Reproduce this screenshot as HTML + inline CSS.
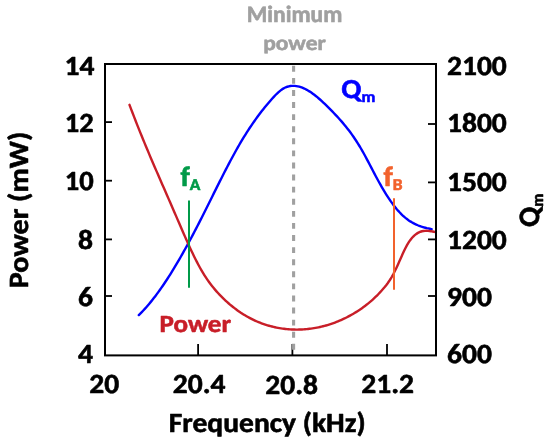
<!DOCTYPE html>
<html><head><meta charset="utf-8"><title>Power and Qm vs Frequency</title>
<style>
html,body{margin:0;padding:0;background:#fff;}
svg{display:block;}
text{font-family:Carlito,"Liberation Sans",sans-serif;font-weight:bold;stroke-width:0.6px;stroke-linejoin:round;text-rendering:geometricPrecision;}
</style></head><body>
<svg width="550" height="444" viewBox="0 0 550 444">
<rect x="0" y="0" width="550" height="444" fill="#fff"/>
<!-- minimum power label -->
<text transform="translate(294.5,21.6)" font-size="23.5" fill="#A0A0A0" stroke="#A0A0A0" text-anchor="middle" textLength="95.55" lengthAdjust="spacingAndGlyphs">Minimum</text>
<text transform="translate(294.5,49.5) scale(1,0.9)" font-size="23.5" fill="#A0A0A0" stroke="#A0A0A0" text-anchor="middle" textLength="62.72" lengthAdjust="spacingAndGlyphs">power</text>
<!-- curves -->
<path d="M138.80,315.05 L140.30,313.58 L141.80,312.06 L143.30,310.49 L144.80,308.86 L146.30,307.19 L147.80,305.47 L149.30,303.70 L150.80,301.88 L152.30,300.01 L153.80,298.10 L155.30,296.15 L156.80,294.15 L158.30,292.10 L159.80,290.02 L161.30,287.89 L162.80,285.72 L164.30,283.51 L165.80,281.26 L167.30,278.97 L168.80,276.65 L170.30,274.28 L171.80,271.88 L173.30,269.45 L174.80,266.98 L176.30,264.47 L177.80,261.93 L179.30,259.36 L180.80,256.76 L182.30,254.13 L183.80,251.46 L185.30,248.77 L186.80,246.05 L188.30,243.30 L189.80,240.52 L191.30,237.72 L192.80,234.89 L194.30,232.03 L195.80,229.16 L197.30,226.25 L198.80,223.33 L200.30,220.39 L201.80,217.43 L203.30,214.45 L204.80,211.46 L206.30,208.46 L207.80,205.46 L209.30,202.44 L210.80,199.43 L212.30,196.41 L213.80,193.40 L215.30,190.39 L216.80,187.38 L218.30,184.39 L219.80,181.41 L221.30,178.44 L222.80,175.48 L224.30,172.55 L225.80,169.63 L227.30,166.74 L228.80,163.88 L230.30,161.04 L231.80,158.24 L233.30,155.46 L234.80,152.73 L236.30,150.03 L237.80,147.37 L239.30,144.75 L240.80,142.18 L242.30,139.66 L243.80,137.19 L245.30,134.76 L246.80,132.39 L248.30,130.06 L249.80,127.78 L251.30,125.55 L252.80,123.36 L254.30,121.21 L255.80,119.10 L257.30,117.04 L258.80,115.02 L260.30,113.04 L261.80,111.09 L263.30,109.18 L264.80,107.31 L266.30,105.48 L267.80,103.68 L269.30,101.91 L270.80,100.17 L272.30,98.47 L273.80,96.83 L275.30,95.26 L276.80,93.76 L278.30,92.36 L279.80,91.07 L281.30,89.91 L282.80,88.88 L284.30,88.00 L285.80,87.28 L287.30,86.73 L288.80,86.31 L290.30,86.04 L291.80,85.88 L293.30,85.84 L294.80,85.90 L296.30,86.07 L297.80,86.34 L299.30,86.70 L300.80,87.15 L302.30,87.70 L303.80,88.33 L305.30,89.04 L306.80,89.82 L308.30,90.68 L309.80,91.61 L311.30,92.61 L312.80,93.67 L314.30,94.79 L315.80,95.96 L317.30,97.19 L318.80,98.46 L320.30,99.77 L321.80,101.13 L323.30,102.52 L324.80,103.95 L326.30,105.40 L327.80,106.88 L329.30,108.38 L330.80,109.90 L332.30,111.44 L333.80,112.99 L335.30,114.56 L336.80,116.17 L338.30,117.80 L339.80,119.46 L341.30,121.16 L342.80,122.90 L344.30,124.69 L345.80,126.52 L347.30,128.40 L348.80,130.34 L350.30,132.34 L351.80,134.40 L353.30,136.52 L354.80,138.71 L356.30,140.98 L357.80,143.32 L359.30,145.75 L360.80,148.25 L362.30,150.85 L363.80,153.52 L365.30,156.27 L366.80,159.07 L368.30,161.91 L369.80,164.78 L371.30,167.66 L372.80,170.53 L374.30,173.38 L375.80,176.21 L377.30,178.99 L378.80,181.74 L380.30,184.43 L381.80,187.07 L383.30,189.64 L384.80,192.13 L386.30,194.55 L387.80,196.89 L389.30,199.15 L390.80,201.33 L392.30,203.42 L393.80,205.43 L395.30,207.35 L396.80,209.17 L398.30,210.91 L399.80,212.55 L401.30,214.10 L402.80,215.55 L404.30,216.90 L405.80,218.16 L407.30,219.32 L408.80,220.40 L410.30,221.39 L411.80,222.30 L413.30,223.14 L414.80,223.91 L416.30,224.62 L417.80,225.26 L419.30,225.85 L420.80,226.39 L422.30,226.88 L423.80,227.32 L425.30,227.73 L426.80,228.11 L428.30,228.45 L429.80,228.78 L431.30,229.08 L431.60,229.14" fill="none" stroke="#0000FF" stroke-width="2.4" stroke-linecap="round"/>
<path d="M129.50,104.86 L131.00,108.85 L132.50,112.79 L134.00,116.69 L135.50,120.54 L137.00,124.36 L138.50,128.13 L140.00,131.87 L141.50,135.57 L143.00,139.24 L144.50,142.88 L146.00,146.49 L147.50,150.07 L149.00,153.63 L150.50,157.17 L152.00,160.68 L153.50,164.18 L155.00,167.66 L156.50,171.13 L158.00,174.59 L159.50,178.03 L161.00,181.47 L162.50,184.90 L164.00,188.33 L165.50,191.76 L167.00,195.18 L168.50,198.61 L170.00,202.05 L171.50,205.49 L173.00,208.94 L174.50,212.40 L176.00,215.87 L177.50,219.35 L179.00,222.83 L180.50,226.31 L182.00,229.77 L183.50,233.22 L185.00,236.64 L186.50,240.02 L188.00,243.36 L189.50,246.65 L191.00,249.89 L192.50,253.06 L194.00,256.17 L195.50,259.19 L197.00,262.13 L198.50,264.98 L200.00,267.73 L201.50,270.37 L203.00,272.90 L204.50,275.32 L206.00,277.64 L207.50,279.86 L209.00,281.98 L210.50,284.01 L212.00,285.96 L213.50,287.83 L215.00,289.62 L216.50,291.35 L218.00,293.01 L219.50,294.62 L221.00,296.17 L222.50,297.67 L224.00,299.13 L225.50,300.54 L227.00,301.92 L228.50,303.25 L230.00,304.54 L231.50,305.79 L233.00,307.00 L234.50,308.17 L236.00,309.31 L237.50,310.41 L239.00,311.46 L240.50,312.49 L242.00,313.47 L243.50,314.42 L245.00,315.34 L246.50,316.22 L248.00,317.07 L249.50,317.89 L251.00,318.67 L252.50,319.42 L254.00,320.14 L255.50,320.82 L257.00,321.48 L258.50,322.11 L260.00,322.71 L261.50,323.28 L263.00,323.82 L264.50,324.34 L266.00,324.83 L267.50,325.29 L269.00,325.73 L270.50,326.14 L272.00,326.53 L273.50,326.89 L275.00,327.23 L276.50,327.55 L278.00,327.84 L279.50,328.11 L281.00,328.36 L282.50,328.58 L284.00,328.78 L285.50,328.96 L287.00,329.12 L288.50,329.25 L290.00,329.36 L291.50,329.45 L293.00,329.52 L294.50,329.56 L296.00,329.58 L297.50,329.58 L299.00,329.56 L300.50,329.51 L302.00,329.45 L303.50,329.36 L305.00,329.25 L306.50,329.12 L308.00,328.97 L309.50,328.80 L311.00,328.60 L312.50,328.39 L314.00,328.15 L315.50,327.90 L317.00,327.62 L318.50,327.32 L320.00,327.00 L321.50,326.66 L323.00,326.29 L324.50,325.90 L326.00,325.49 L327.50,325.06 L329.00,324.60 L330.50,324.12 L332.00,323.62 L333.50,323.09 L335.00,322.54 L336.50,321.96 L338.00,321.36 L339.50,320.73 L341.00,320.08 L342.50,319.40 L344.00,318.70 L345.50,317.97 L347.00,317.22 L348.50,316.43 L350.00,315.62 L351.50,314.79 L353.00,313.92 L354.50,313.03 L356.00,312.11 L357.50,311.16 L359.00,310.19 L360.50,309.18 L362.00,308.14 L363.50,307.07 L365.00,305.96 L366.50,304.81 L368.00,303.62 L369.50,302.39 L371.00,301.11 L372.50,299.79 L374.00,298.42 L375.50,296.99 L377.00,295.52 L378.50,293.99 L380.00,292.40 L381.50,290.75 L383.00,289.03 L384.50,287.26 L386.00,285.39 L387.50,283.42 L389.00,281.30 L390.50,279.01 L392.00,276.52 L393.50,273.79 L395.00,270.84 L396.50,267.71 L398.00,264.44 L399.50,261.09 L401.00,257.70 L402.50,254.35 L404.00,251.11 L405.50,248.03 L407.00,245.21 L408.50,242.68 L410.00,240.45 L411.50,238.49 L413.00,236.80 L414.50,235.36 L416.00,234.15 L417.50,233.15 L419.00,232.35 L420.50,231.74 L422.00,231.29 L423.50,230.99 L425.00,230.83 L426.50,230.78 L428.00,230.84 L429.50,230.98 L431.00,231.19 L432.50,231.45 L434.00,231.75 L435.50,232.08 L435.70,232.12" fill="none" stroke="#C81E28" stroke-width="2.4" stroke-linecap="round"/>
<!-- markers -->
<line x1="189" y1="200.5" x2="189" y2="287.8" stroke="#009A48" stroke-width="2"/>
<line x1="394" y1="198.2" x2="394" y2="289.8" stroke="#F2622D" stroke-width="2"/>
<!-- frame -->
<rect x="105" y="64" width="331" height="291.4" fill="none" stroke="#000" stroke-width="2"/>
<!-- ticks -->
<g stroke="#000" stroke-width="1.8">
<line x1="105" y1="122.1" x2="112" y2="122.1"/>
<line x1="105" y1="180.7" x2="112" y2="180.7"/>
<line x1="105" y1="239.4" x2="112" y2="239.4"/>
<line x1="105" y1="296" x2="112" y2="296"/>
<line x1="428" y1="124" x2="436" y2="124"/>
<line x1="428" y1="182.4" x2="436" y2="182.4"/>
<line x1="428" y1="239.4" x2="436" y2="239.4"/>
<line x1="428" y1="296" x2="436" y2="296"/>
<line x1="198.1" y1="344" x2="198.1" y2="355"/>
<line x1="292.4" y1="344" x2="292.4" y2="355"/>
<line x1="387" y1="344" x2="387" y2="355"/>
</g>
<!-- dashed line -->
<line x1="293.6" y1="65.8" x2="293.6" y2="354" stroke="#A0A0A0" stroke-width="3.1" stroke-dasharray="5.9 6.19"/>
<!-- axis labels -->
<text transform="translate(94.5,75.2) scale(1,0.94)" font-size="29.5" fill="#000" stroke="#000" text-anchor="end" textLength="29.90" lengthAdjust="spacingAndGlyphs">14</text>
<text transform="translate(93.7,131.92) scale(1,0.94)" font-size="29.5" fill="#000" stroke="#000" text-anchor="end" textLength="28.90" lengthAdjust="spacingAndGlyphs">12</text>
<text transform="translate(93.7,190.22) scale(1,0.94)" font-size="29.5" fill="#000" stroke="#000" text-anchor="end" textLength="28.90" lengthAdjust="spacingAndGlyphs">10</text>
<text transform="translate(93.0,248.92) scale(1,0.94)" font-size="29.5" fill="#000" stroke="#000" text-anchor="end" textLength="14.95" lengthAdjust="spacingAndGlyphs">8</text>
<text transform="translate(93.0,305.8) scale(1,0.94)" font-size="29.5" fill="#000" stroke="#000" text-anchor="end" textLength="14.95" lengthAdjust="spacingAndGlyphs">6</text>
<text transform="translate(93.0,362.7) scale(1,0.94)" font-size="29.5" fill="#000" stroke="#000" text-anchor="end" textLength="14.95" lengthAdjust="spacingAndGlyphs">4</text>
<text transform="translate(447,75.02) scale(1,0.94)" font-size="29.5" fill="#000" stroke="#000" text-anchor="start" textLength="59.81" lengthAdjust="spacingAndGlyphs">2100</text>
<text transform="translate(447,131.9) scale(1,0.94)" font-size="29.5" fill="#000" stroke="#000" text-anchor="start" textLength="59.81" lengthAdjust="spacingAndGlyphs">1800</text>
<text transform="translate(447,191.12) scale(1,0.94)" font-size="29.5" fill="#000" stroke="#000" text-anchor="start" textLength="59.81" lengthAdjust="spacingAndGlyphs">1500</text>
<text transform="translate(447,248.72) scale(1,0.94)" font-size="29.5" fill="#000" stroke="#000" text-anchor="start" textLength="59.81" lengthAdjust="spacingAndGlyphs">1200</text>
<text transform="translate(447,305.78) scale(1,0.94)" font-size="29.5" fill="#000" stroke="#000" text-anchor="start" textLength="44.85" lengthAdjust="spacingAndGlyphs">900</text>
<text transform="translate(447,362.9) scale(1,0.94)" font-size="29.5" fill="#000" stroke="#000" text-anchor="start" textLength="44.85" lengthAdjust="spacingAndGlyphs">600</text>
<text transform="translate(104.3,392.9) scale(1,0.94)" font-size="29.5" fill="#000" stroke="#000" text-anchor="middle" textLength="29.90" lengthAdjust="spacingAndGlyphs">20</text>
<text transform="translate(199.1,393.02) scale(1,0.94)" font-size="29.5" fill="#000" stroke="#000" text-anchor="middle" textLength="52.73" lengthAdjust="spacingAndGlyphs">20.4</text>
<text transform="translate(291.6,393.9) scale(1,0.94)" font-size="29.5" fill="#000" stroke="#000" text-anchor="middle" textLength="52.73" lengthAdjust="spacingAndGlyphs">20.8</text>
<text transform="translate(387.7,393.32) scale(1,0.94)" font-size="29.5" fill="#000" stroke="#000" text-anchor="middle" textLength="52.73" lengthAdjust="spacingAndGlyphs">21.2</text>
<text transform="translate(267.2,432.4) scale(1,0.94)" font-size="29.5" fill="#000" stroke="#000" text-anchor="middle" textLength="196.75" lengthAdjust="spacingAndGlyphs">Frequency (kHz)</text>
<text transform="translate(27.6,209.9) rotate(-90) scale(1,0.93)" font-size="30" fill="#000" stroke="#000" text-anchor="middle" textLength="156.52" lengthAdjust="spacingAndGlyphs">Power (mW)</text>
<text transform="translate(538.7,227) rotate(-90) scale(1,1.0)" font-size="29.5" fill="#000" stroke="#000">Q<tspan font-size="16" dy="4.00">m</tspan></text>
<!-- inline labels -->
<text transform="translate(341.3,97.8) scale(1,0.93)" font-size="29.5" fill="#0000FF" stroke="#0000FF">Q<tspan font-size="17" dy="4.09">m</tspan></text>
<text transform="translate(159.5,332.3) scale(1,0.91)" font-size="27" fill="#C81E28" stroke="#C81E28" text-anchor="start" textLength="71.50" lengthAdjust="spacingAndGlyphs">Power</text>
<text transform="translate(180.5,185.5) scale(1,0.95)" font-size="29.5" fill="#009A48" stroke="#009A48">f<tspan font-size="17.5" dy="4.21">A</tspan></text>
<text transform="translate(383.5,185.5) scale(1,0.95)" font-size="29.5" fill="#F2622D" stroke="#F2622D">f<tspan font-size="17.5" dy="4.21">B</tspan></text>
</svg>
</body></html>
